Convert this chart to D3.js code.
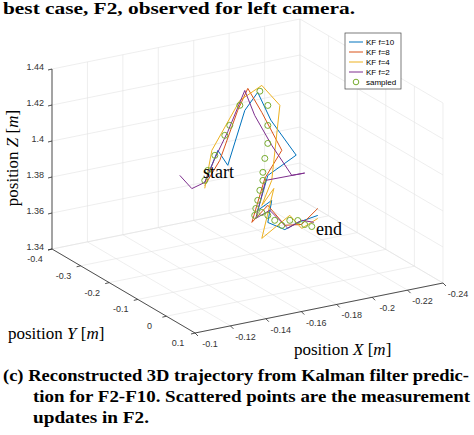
<!DOCTYPE html><html><head><meta charset="utf-8">
<script src="https://d3js.org/d3.v7.min.js"></script>
<style>body{margin:0;background:#fff}svg{display:block}</style></head><body>
<svg id="c" width="474" height="435"></svg>
<script>
const xTicks=[-0.1,-0.12,-0.14,-0.16,-0.18,-0.2,-0.22,-0.24];
const yTicks=[-0.4,-0.3,-0.2,-0.1,0,0.1];
const zTicks=[1.34,1.36,1.38,1.4,1.42,1.44];
const yPlane=-0.1;
const kf10=[[-.1378,1.3975],[-.1452,1.4138],[-.1508,1.4044],[-.1604,1.433],[-.1677,1.4416],[-.1751,1.4247],[-.1894,1.4024],[-.1734,1.3943],[-.1677,1.376],[-.1756,1.38],[-.1734,1.3682],[-.183,1.3623],[-.1903,1.3648],[-.2016,1.3665]];
const kf8=[[-.1378,1.3958],[-.1463,1.4081],[-.1564,1.4338],[-.1621,1.4449],[-.17,1.43],[-.1813,1.4067],[-.1717,1.393],[-.1644,1.37],[-.1734,1.3777],[-.183,1.3647],[-.1925,1.3633],[-.2016,1.3704]];
const kf4=[[-.1378,1.3942],[-.1418,1.4145],[-.1576,1.4391],[-.17,1.445],[-.1802,1.4319],[-.1756,1.3911],[-.17,1.3783],[-.1768,1.3864],[-.17,1.36],[-.1858,1.3697],[-.1925,1.3611],[-.2016,1.3648]];
const kf2=[[-.1237,1.4042],[-.1305,1.3955],[-.1378,1.3975],[-.1435,1.4097],[-.1508,1.4231],[-.1604,1.4441],[-.166,1.4291],[-.1756,1.4106],[-.1869,1.3917],[-.1942,1.3915],[-.1722,1.3918],[-.1666,1.3718],[-.1745,1.3747],[-.1847,1.3627],[-.1925,1.3656],[-.1994,1.3631]];
const sampled=[[-.1378,1.3986],[-.1395,1.4038],[-.1435,1.4114],[-.1491,1.4214],[-.1519,1.4264],[-.1576,1.4364],[-.1689,1.442],[-.1734,1.4332],[-.1734,1.4221],[-.1734,1.4121],[-.1717,1.4041],[-.1706,1.3966],[-.1706,1.3921],[-.1689,1.3869],[-.1677,1.3816],[-.1666,1.3773],[-.166,1.3736],[-.17,1.3744],[-.1734,1.3721],[-.1773,1.3686],[-.1813,1.365],[-.1858,1.3669],[-.1903,1.3659],[-.1942,1.3629],[-.1982,1.361]];
const series=[{n:"KF f=10",d:kf10,c:"#0072BD"},{n:"KF f=8",d:kf8,c:"#D95319"},{n:"KF f=4",d:kf4,c:"#EDB120"},{n:"KF f=2",d:kf2,c:"#7E2F8E"}];

const svg=d3.select("#c");
const sx=d3.scaleLinear().domain([-0.1,-0.24]).range([0,1]);
const sy=d3.scaleLinear().domain([0.1,-0.4]).range([0,1]);
const sz=d3.scaleLinear().domain([1.34,1.44]).range([0,1]);
const O=[195,333],vX=[248,-50],vY=[-143,-84],vZ=[0,-180];
function P(x,y,z){const a=sx(x),b=sy(y),c=sz(z);return [O[0]+a*vX[0]+b*vY[0]+c*vZ[0],O[1]+a*vX[1]+b*vY[1]+c*vZ[1]];}
const g=svg.append("g");
function seg(p,q,col,w){g.append("line").attr("x1",p[0]).attr("y1",p[1]).attr("x2",q[0]).attr("y2",q[1]).attr("stroke",col).attr("stroke-width",w||0.6);}
const gc="#e3e3e3";
const x0=-0.1,x1=-0.24,y0=0.1,y1=-0.4,z0=1.34,z1=1.44;
xTicks.forEach(x=>{seg(P(x,y0,z0),P(x,y1,z0),gc);seg(P(x,y1,z0),P(x,y1,z1),gc);});
yTicks.forEach(y=>{seg(P(x0,y,z0),P(x1,y,z0),gc);seg(P(x1,y,z0),P(x1,y,z1),gc);});
zTicks.forEach(z=>{seg(P(x0,y1,z),P(x1,y1,z),gc);seg(P(x1,y1,z),P(x1,y0,z),gc);});
const ac="#262626";
seg(P(x0,y1,z0),P(x0,y1,z1),ac,0.8);
seg(P(x0,y1,z0),P(x0,y0,z0),ac,0.8);
seg(P(x0,y0,z0),P(x1,y0,z0),ac,0.8);
const lab=(p,t,anc)=>g.append("text").attr("x",p[0]).attr("y",p[1]).attr("text-anchor",anc||"middle").attr("font-family","Liberation Sans,Arial").attr("font-size",9).attr("fill","#333").text(t);
const fmt=v=>String(+v.toFixed(2));
zTicks.forEach(z=>{const p=P(x0,y1,z);seg(p,[p[0]-4,p[1]+1],ac,0.8);lab([p[0]-8,p[1]+1],fmt(z),"end");});
yTicks.forEach(y=>{const p=P(x0,y,z0);seg(p,[p[0]-4,p[1]+1],ac,0.8);lab([p[0]-17,p[1]+13],fmt(y));});
xTicks.forEach(x=>{const p=P(x,y0,z0);seg(p,[p[0]+3,p[1]+3],ac,0.8);lab([p[0]+15,p[1]+14],fmt(x));});
const line=d3.line().x(d=>P(d[0],yPlane,d[1])[0]).y(d=>P(d[0],yPlane,d[1])[1]);
series.forEach(s=>g.append("path").attr("d",line(s.d)).attr("fill","none").attr("stroke",s.c).attr("stroke-width",1));
sampled.forEach(d=>{const p=P(d[0],yPlane,d[1]);g.append("circle").attr("cx",p[0]).attr("cy",p[1]).attr("r",3).attr("fill","none").attr("stroke","#77AC30").attr("stroke-width",1);});
const serif="Liberation Serif,Times New Roman,serif";
g.append("text").attr("x",203).attr("y",178).attr("font-family",serif).attr("font-size",18).text("start");
g.append("text").attr("x",316).attr("y",235).attr("font-family",serif).attr("font-size",18).text("end");
const L=g.append("g");
L.append("rect").attr("x",345).attr("y",33).attr("width",56).attr("height",56).attr("fill","#fff").attr("stroke","#444").attr("stroke-width",0.7);
series.forEach((s,i)=>{const yy=42+i*10;L.append("line").attr("x1",349).attr("x2",363).attr("y1",yy).attr("y2",yy).attr("stroke",s.c);L.append("text").attr("x",366).attr("y",yy+3).attr("font-family","Liberation Sans,Arial").attr("font-size",8).text(s.n);});
L.append("circle").attr("cx",356).attr("cy",82).attr("r",2.8).attr("fill","none").attr("stroke","#77AC30");
L.append("text").attr("x",366).attr("y",85).attr("font-family","Liberation Sans,Arial").attr("font-size",8).text("sampled");
function title(x,y,tr,letter){const t=g.append("text").attr("font-family",serif).attr("font-size",17);if(tr)t.attr("transform",tr).attr("text-anchor","middle");else t.attr("x",x).attr("y",y);
t.append("tspan").text("position ");t.append("tspan").attr("font-style","italic").text(letter);t.append("tspan").text(" [");t.append("tspan").attr("font-style","italic").text("m");t.append("tspan").text("]");}
title(8,339,null,"Y");title(294,355,null,"X");title(0,0,"translate(18,158) rotate(-90)","Z");
const tb=(x,y,t,len)=>g.append("text").attr("x",x).attr("y",y).attr("font-family",serif).attr("font-weight","bold").attr("font-size",17).attr("textLength",len).attr("lengthAdjust","spacingAndGlyphs").text(t);
tb(3,14,"best case, F2, observed for left camera.",352);
tb(3,381,"(c) Reconstructed 3D trajectory from Kalman filter predic-",466);
tb(33,402,"tion for F2-F10.  Scattered points are the measurement",437);
tb(33,423,"updates in F2.",116);
</script></body></html>
